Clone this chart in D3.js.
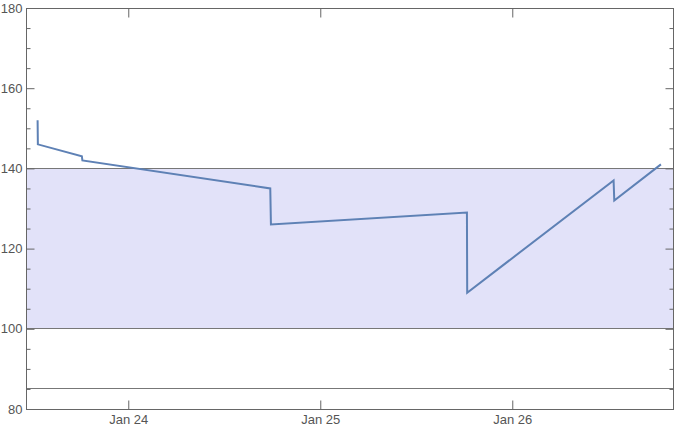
<!DOCTYPE html>
<html><head><meta charset="utf-8">
<script src="https://cdn.jsdelivr.net/npm/d3@7"></script>
<style>body{margin:0;background:#fff}svg{display:block}</style>
</head><body><svg id="c" width="675" height="430"></svg>
<script>
const times = ["2024-01-23T12:40","2024-01-23T12:42","2024-01-23T18:12","2024-01-23T18:16","2024-01-24T17:45","2024-01-24T17:50","2024-01-25T18:20","2024-01-25T18:22","2024-01-26T12:40","2024-01-26T12:45","2024-01-26T18:35"];
const values = [152,146,143,142,135,126,129,109,137,132,141];
const xDomain = ["2024-01-23T11:13","2024-01-26T20:13"];
const yDomain = [80,180];
const xTickDates = ["2024-01-24T00:00","2024-01-25T00:00","2024-01-26T00:00"];
const yMajorTicks = [80,100,120,140,160,180];
const yMinorTicks = [85,90,95,105,110,115,125,130,135,145,150,155,165,170,175];
const bandRange = [100,140];
const refLines = [140,100,85];

const parse = d3.timeParse("%Y-%m-%dT%H:%M");
const svg = d3.select("#c");
const L=26,R=674,T=8,B=409;
const x = d3.scaleTime().domain(xDomain.map(parse)).range([L,R]);
const y = d3.scaleLinear().domain(yDomain).range([B,T]);
const frame="#666", txt="#555";

svg.append("rect").attr("x",L).attr("width",R-L).attr("y",y(bandRange[1])).attr("height",y(bandRange[0])-y(bandRange[1])).attr("fill","#e2e2f9");
svg.selectAll("line.ref").data(refLines).join("line").attr("class","ref")
  .attr("x1",L).attr("x2",R).attr("y1",d=>y(d)).attr("y2",d=>y(d)).attr("stroke","#777").attr("stroke-width",1).attr("shape-rendering","crispEdges");

const pts = times.map((t,i)=>[parse(t),values[i]]);
svg.append("path").datum(pts).attr("fill","none").attr("stroke","#5e81b5").attr("stroke-width",2).attr("stroke-linejoin","miter")
  .attr("d",d3.line().x(d=>x(d[0])).y(d=>y(d[1])));

svg.append("rect").attr("x",L+0.5).attr("y",T+0.5).attr("width",R-L-1).attr("height",B-T).attr("fill","none").attr("stroke",frame).attr("stroke-width",1);

const font = "'Liberation Sans', Arial, Helvetica, sans-serif";
const xt = xTickDates.map(parse);
const bx = svg.append("g").attr("transform",`translate(0,${B+0.5})`).call(d3.axisBottom(x).tickValues(xt).tickSize(-9).tickFormat(d3.timeFormat("%b %d")).tickPadding(5));
const tx = svg.append("g").attr("transform",`translate(0,${T+0.5})`).call(d3.axisTop(x).tickValues(xt).tickSize(-9).tickFormat(""));
const ly = svg.append("g").attr("transform",`translate(${L+0.5},0)`).call(d3.axisLeft(y).tickValues(yMajorTicks).tickSize(-8).tickPadding(4));
const lym = svg.append("g").attr("transform",`translate(${L+0.5},0)`).call(d3.axisLeft(y).tickValues(yMinorTicks).tickSize(-4).tickFormat(""));
const ry = svg.append("g").attr("transform",`translate(${R-0.5},0)`).call(d3.axisRight(y).tickValues(yMajorTicks).tickSize(-8).tickFormat(""));
const rym = svg.append("g").attr("transform",`translate(${R-0.5},0)`).call(d3.axisRight(y).tickValues(yMinorTicks).tickSize(-4).tickFormat(""));
[bx,tx,ly,lym,ry,rym].forEach(g=>{
  g.attr("font-family",font).attr("font-size",13);
  g.select(".domain").remove();
  g.selectAll(".tick line").attr("stroke",frame);
  g.selectAll("text").attr("fill",txt);
});
</script></body></html>
